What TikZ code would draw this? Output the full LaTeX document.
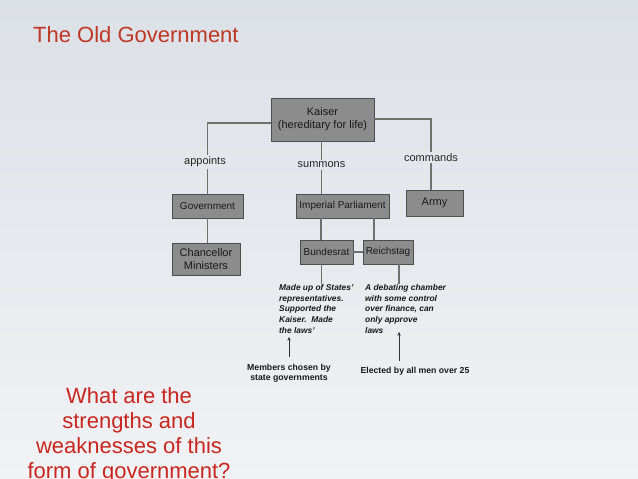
\documentclass[tikz,border=0pt]{standalone}
\usepackage{fontspec}
\setmainfont{Liberation Sans}
\usetikzlibrary{arrows.meta}
\definecolor{bgtop}{RGB}{220,224,231}
\definecolor{bgmid}{RGB}{237,238,241}
\definecolor{bgbot}{RGB}{241,242,245}
\definecolor{boxfill}{RGB}{140,140,140}
\definecolor{boxline}{RGB}{78,78,78}
\definecolor{connc}{RGB}{112,112,112}
\definecolor{titlered}{RGB}{190,55,35}
\definecolor{qred}{RGB}{200,38,30}
\begin{document}
\begin{tikzpicture}[x=1pt,y=-1pt,
  box/.style={draw=boxline, fill=boxfill, line width=0.8pt, inner sep=0pt, align=center, text=black!90},
  conn/.style={draw=connc, line width=1.4pt},
  lbl/.style={font=\fontsize{11}{13}\selectfont, text=black!85, inner sep=1.5pt},
  note/.style={font=\fontsize{8.4}{10.8}\selectfont\bfseries\itshape, align=left, inner sep=0pt, anchor=north west, text=black!90},
  src/.style={font=\fontsize{8.7}{9.6}\selectfont\bfseries, align=center, inner sep=0pt, text=black!90},
  arr/.style={draw=black!80, line width=0.8pt, -{Stealth[length=4pt,width=3.2pt]}}]
\useasboundingbox (0,0) rectangle (638,479);
\shade[top color=bgtop, middle color=bgmid, bottom color=bgbot] (0,0) rectangle (638,479);

% title
\node[anchor=west, inner sep=0pt, text=titlered, font=\fontsize{22}{26}\selectfont] (title) at (33,35) {The Old Government};

% boxes
\node[box, minimum width=103pt, minimum height=43pt, font=\fontsize{11}{13}\selectfont] (kaiser) at (322.5,119.5) {Kaiser\\(hereditary for life)};
\node[box, minimum width=71pt, minimum height=24pt, font=\fontsize{10}{12}\selectfont] (gov) at (207.5,206) {Government};
\node[box, minimum width=68pt, minimum height=32pt, font=\fontsize{11}{12.5}\selectfont] (chan) at (206,259) {Chancellor\\Ministers};
\node[box, minimum width=93pt, minimum height=24pt, font=\fontsize{10}{12}\selectfont] (imp) at (342.5,206) {Imperial Parliament};
\node[box, minimum width=57pt, minimum height=26pt, font=\fontsize{11}{13}\selectfont] (army) at (434.5,203) {Army};
\node[box, minimum width=53pt, minimum height=24pt, font=\fontsize{10}{12}\selectfont] (bund) at (326.5,252) {Bundesrat};
\node[box, minimum width=50pt, minimum height=24pt, font=\fontsize{10}{12}\selectfont] (reich) at (388,252) {Reichstag};

% labels
\node[lbl] (appoints) at (205,162) {appoints};
\node[lbl] (summons) at (321.5,165) {summons};
\node[lbl] (commands) at (431,157.5) {commands};

% connectors from Kaiser
\draw[conn] ([yshift=-3.5pt]kaiser.west) -| (gov.north |- appoints.north);
\draw[conn] (gov.north |- appoints.south) -- (gov.north);
\draw[conn] (summons.north |- kaiser.south) -- (summons.north);
\draw[conn] (summons.south) -- (summons.south |- imp.north);
\draw[conn] ([yshift=0.5pt]kaiser.east) -| (commands.north);
\draw[conn] (commands.south) -- (commands.south |- army.north);

% other connectors
\draw[conn] (gov.south) -- (gov.south |- chan.north);
\draw[conn] ([xshift=-21.5pt]imp.south) -- ([xshift=-21.5pt]imp.south |- bund.north);
\draw[conn] ([xshift=31.5pt]imp.south) -- ([xshift=31.5pt]imp.south |- reich.north);
\draw[conn] (bund.east) -- (reich.west);

% notes
\node[note] (bundtext) at (279,284) {Made up of States’\\representatives.\\Supported the\\Kaiser.\ \ Made\\the laws’};
\node[note] (reichtext) at (365,284) {A debating chamber\\with some control\\over finance, can\\only approve\\laws};

\coordinate (bx) at ([xshift=-5pt]bund.south);
\coordinate (rx) at ([xshift=11pt]reich.south);
\draw[conn] (bx) -- (bx |- bundtext.north);
\draw[conn] (rx) -- (rx |- reichtext.north);

% sources
\node[src] (members) at (289,373.5) {Members chosen by\\state governments};
\node[src] (elected) at (415,371) {Elected by all men over 25};

\draw[arr, shorten <=7pt, shorten >=3pt] (members.north) -- (members.north |- bundtext.south);
\draw[arr, shorten <=6pt, shorten >=-2pt] (elected.north -| rx) -- (reichtext.south -| rx);

% question
\node[anchor=north, inner sep=0pt, align=center, text=qred, font=\fontsize{22}{25}\selectfont] (question) at (129,387) {What are the\\strengths and\\weaknesses of this\\form of government?};
\end{tikzpicture}
\end{document}
